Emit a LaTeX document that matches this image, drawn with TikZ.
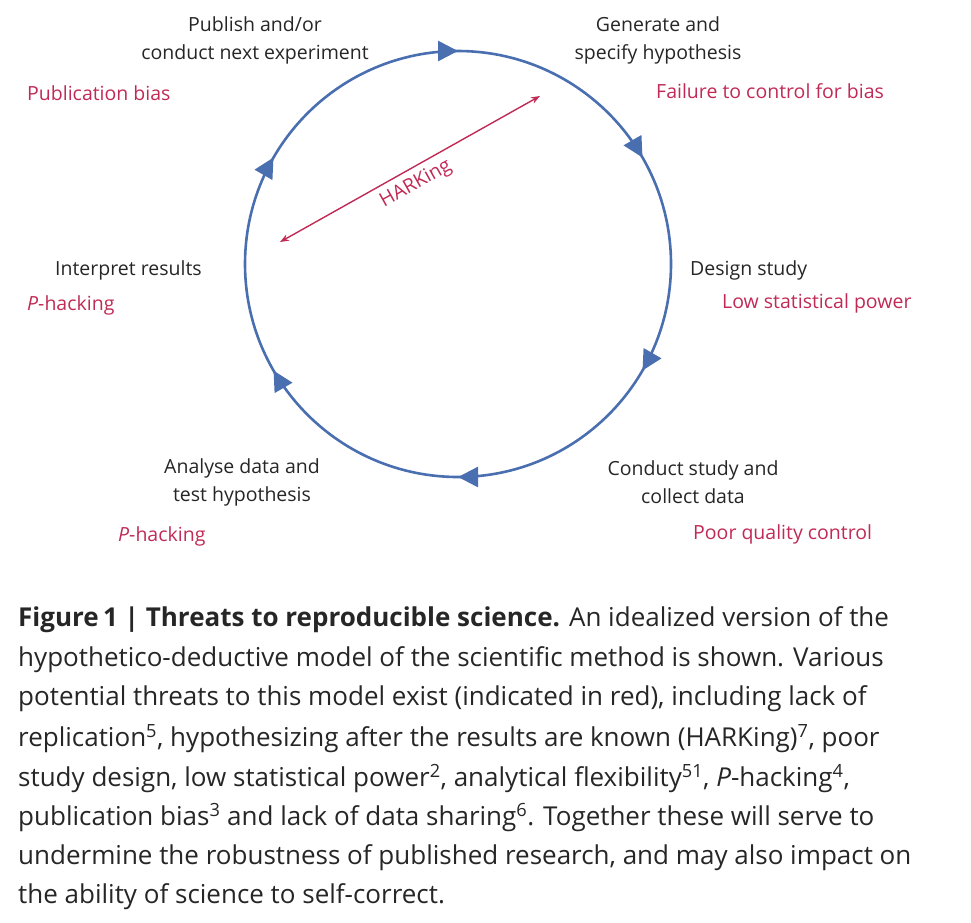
\documentclass[tikz,border=0pt]{standalone}
\usepackage{fontspec}
\setmainfont{Open Sans}
\usetikzlibrary{arrows.meta,decorations.markings}
\definecolor{cblue}{HTML}{4A6FB0}
\definecolor{cred}{HTML}{C02A55}
\begin{document}
\begin{tikzpicture}[x=1pt,y=-1pt,
  lab/.style={font=\fontsize{19.5}{24}\selectfont, text=black!85, inner sep=0pt},
  threat/.style={lab, text=cred},
  captxt/.style={font=\fontsize{26}{30}\selectfont, text=black!85, inner sep=0pt, anchor=west},
  tips/.style={decoration={markings,
     mark=between positions 0 and 0.9 step 1/6 with {\arrow{Triangle[length=20pt,width=20pt]}}},postaction={decorate}}]
\useasboundingbox (0,0) rectangle (971,922);
\coordinate (c) at (458,264);
\draw[cblue, line width=2.6pt, tips] (458,51) arc[start angle=-90, end angle=270, radius=213];
\coordinate (h1) at (540,96);
\coordinate (h2) at (280,242);
\draw[cred, line width=1.4pt, {Stealth[length=9pt]}-{Stealth[length=9pt]}] (h2) -- (h1);
\node[font=\fontsize{19.5}{24}\selectfont, text=cred, rotate=29.3, inner sep=0pt] (hk) at (416,184) {HARKing};
\node[lab, align=center] (n1) at (255,40) {Publish and/or\\[4pt]conduct next experiment};
\node[threat, anchor=west] (t1) at (27,93) {Publication bias};
\node[lab, align=center] (n2) at (658,40) {Generate and\\[4pt]specify hypothesis};
\node[threat, anchor=west] (t2) at (656,91) {Failure to control for bias};
\node[lab, anchor=west] (n3) at (690,270) {Design study};
\node[threat, anchor=west] (t3) at (722,303) {Low statistical power};
\node[lab, anchor=west] (n4) at (55,270) {Interpret results};
\node[threat, anchor=west] (t4) at (27,305) {\textit{P}-hacking};
\node[lab, align=center] (n5) at (242,482) {Analyse data and\\[4pt]test hypothesis};
\node[threat, anchor=west] (t5) at (118,536) {\textit{P}-hacking};
\node[lab, align=center] (n6) at (693,482) {Conduct study and\\[4pt]collect data};
\node[threat, anchor=west] (t6) at (693,534) {Poor quality control};
\node[captxt] (c1) at (18,620) {\textbf{Figure\,1 | Threats to reproducible science.} An idealized version of the};
\node[captxt] (c2) at (18,660) {hypothetico-deductive model of the scientific method is shown. Various};
\node[captxt] (c3) at (18,699) {potential threats to this model exist (indicated in red), including lack of};
\node[captxt] (c4) at (18,739) {replication\textsuperscript{5}, hypothesizing after the results are known (HARKing)\textsuperscript{7}, poor};
\node[captxt] (c5) at (18,779) {study design, low statistical power\textsuperscript{2}, analytical flexibility\textsuperscript{51}, \textit{P}-hacking\textsuperscript{4},};
\node[captxt] (c6) at (18,818) {publication bias\textsuperscript{3} and lack of data sharing\textsuperscript{6}. Together these will serve to};
\node[captxt] (c7) at (18,858) {undermine the robustness of published research, and may also impact on};
\node[captxt] (c8) at (18,897) {the ability of science to self-correct.};
\end{tikzpicture}
\end{document}
